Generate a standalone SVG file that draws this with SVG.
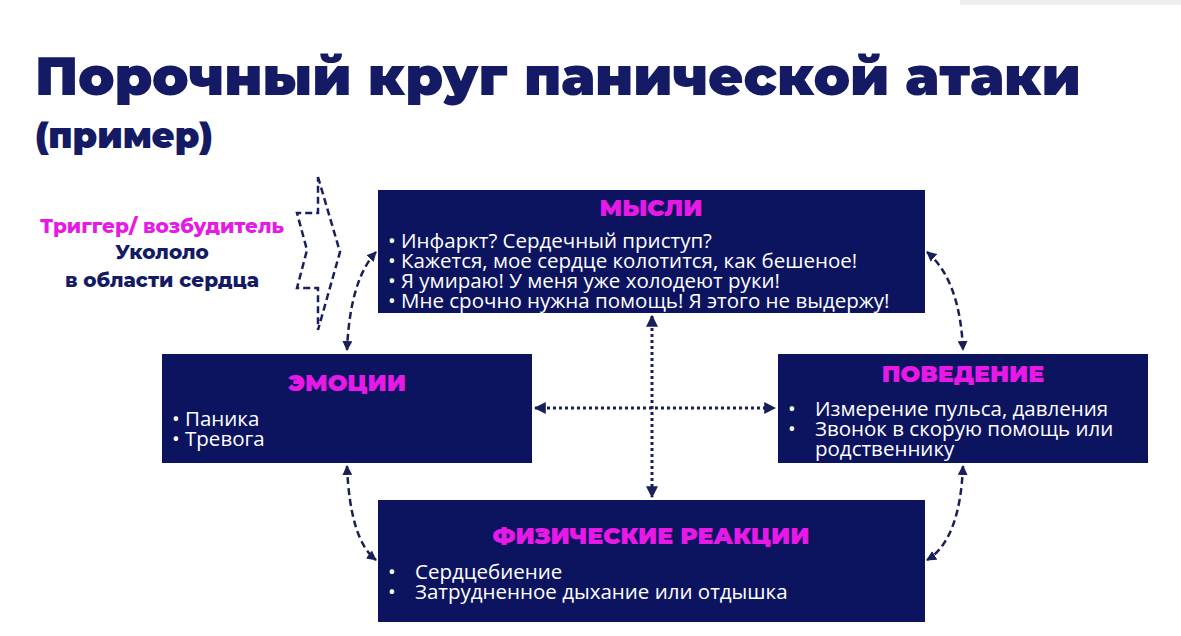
<svg xmlns="http://www.w3.org/2000/svg" width="1181" height="636" viewBox="0 0 1181 636">
<defs>
<style>
.box{fill:#0c1460}
.h{font-family:"Montserrat","Liberation Sans",sans-serif;font-weight:900;fill:#e619e6;font-size:23.5px;text-anchor:middle}
.t{font-family:"Open Sans","Liberation Sans",sans-serif;fill:#fff;font-size:20.5px}
.tr{font-family:"Montserrat","Liberation Sans",sans-serif;font-weight:800;font-size:20px;text-anchor:middle}
.dash{fill:none;stroke:#1a1f5c;stroke-width:2.5;stroke-dasharray:7 4}
.dot{fill:none;stroke:#1a1f5c;stroke-width:3;stroke-dasharray:3 3}
</style>
<marker id="a" viewBox="0 0 10 10" refX="9" refY="5" markerWidth="4" markerHeight="4" orient="auto-start-reverse"><path d="M0,0L10,5L0,10Z" fill="#1a1f5c"/></marker>
</defs>
<rect width="1181" height="636" fill="#fff"/>
<rect x="960" y="0" width="221" height="5" fill="#eeeeee"/>
<text x="35" y="95" font-family="Montserrat,'Liberation Sans',sans-serif" font-weight="900" font-size="54" fill="#141a64">Порочный круг панической атаки</text>
<text x="35" y="148" font-family="Montserrat,'Liberation Sans',sans-serif" font-weight="900" font-size="35" fill="#141a64">(пример)</text>
<g id="trigger">
<text class="tr" x="162" y="233" fill="#e619e6">Триггер/ возбудитель</text>
<text class="tr" x="162" y="259" fill="#141a64">Укололо</text>
<text class="tr" x="162" y="287" fill="#141a64">в области сердца</text>
<polygon class="dash" points="318,177 340,252 318,330 318,288 297,288 307,250 297,213 318,213"/>
</g>
<g id="thoughts">
<rect class="box" x="378" y="190" width="547" height="123"/>
<text class="h" x="651" y="216">МЫСЛИ</text>
<text class="t" x="388" y="248">• Инфаркт? Сердечный приступ?</text>
<text class="t" x="388" y="268">• Кажется, мое сердце колотится, как бешеное!</text>
<text class="t" x="388" y="288">• Я умираю! У меня уже холодеют руки!</text>
<text class="t" x="388" y="308">• Мне срочно нужна помощь! Я этого не выдержу!</text>
</g>
<g id="emotions">
<rect class="box" x="162" y="354" width="370" height="109"/>
<text class="h" x="347" y="391">ЭМОЦИИ</text>
<text class="t" x="172" y="426">• Паника</text>
<text class="t" x="172" y="446">• Тревога</text>
</g>
<g id="behavior">
<rect class="box" x="778" y="354" width="370" height="109"/>
<text class="h" x="963" y="382">ПОВЕДЕНИЕ</text>
<text class="t" x="788" y="416">•</text><text class="t" x="815" y="416">Измерение пульса, давления</text>
<text class="t" x="788" y="436">•</text><text class="t" x="815" y="436">Звонок в скорую помощь или</text>
<text class="t" x="815" y="456">родственнику</text>
</g>
<g id="physical">
<rect class="box" x="378" y="500" width="547" height="122"/>
<text class="h" x="651" y="544">ФИЗИЧЕСКИЕ РЕАКЦИИ</text>
<text class="t" x="388" y="579">•</text><text class="t" x="415" y="579">Сердцебиение</text>
<text class="t" x="388" y="599">•</text><text class="t" x="415" y="599">Затрудненное дыхание или отдышка</text>
</g>
<g id="connectors">
<path class="dash" d="M376,252 Q350,280 347,350" marker-start="url(#a)" marker-end="url(#a)"/>
<path class="dash" d="M927,252 Q960,280 963,350" marker-start="url(#a)" marker-end="url(#a)"/>
<path class="dash" d="M347,466 Q350,540 376,560" marker-start="url(#a)" marker-end="url(#a)"/>
<path class="dash" d="M963,466 Q960,540 927,560" marker-start="url(#a)" marker-end="url(#a)"/>
<path class="dot" d="M652,316 V497" marker-start="url(#a)" marker-end="url(#a)"/>
<path class="dot" d="M535,408 H775" marker-start="url(#a)" marker-end="url(#a)"/>
</g>
</svg>
